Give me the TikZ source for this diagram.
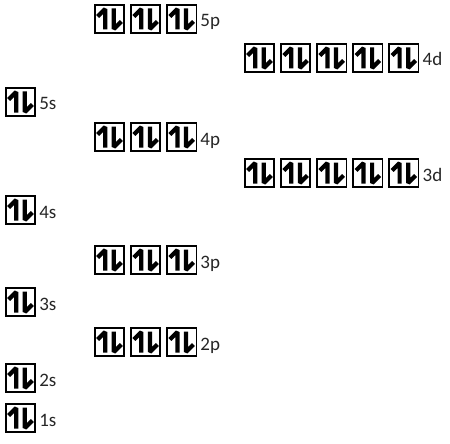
\documentclass[tikz,border=0pt]{standalone}
\usepackage{fontspec}
\setmainfont{Carlito}
\usepackage{tikz}
\usetikzlibrary{positioning}
\tikzset{
  orb/.style={draw, line width=1.7pt, minimum width=29.4pt, minimum height=28.4pt, inner sep=0pt,
    path picture={
      \draw[line width=4.2pt, line join=bevel]
        ([shift={(-4.3pt,-10.5pt)}]path picture bounding box.center) -- ++(0pt,20.5pt) -- ++(-7.5pt,-7.5pt);
      \draw[line width=4.2pt, line join=bevel]
        ([shift={(4.3pt,10.5pt)}]path picture bounding box.center) -- ++(0pt,-20.5pt) -- ++(7.5pt,7.5pt);
    }},
  lbl/.style={inner sep=0pt, text height=12pt, text depth=4pt, yshift=-4pt, text=black!85,
    font=\fontsize{19pt}{20pt}\selectfont}
}
\begin{document}
\begin{tikzpicture}[x=1pt, y=-1pt, node distance=5pt]
  \useasboundingbox (0,0) rectangle (450,444);
  \node[orb]  (p5a)  at (109.5,19) {};
  \node[orb, right=of p5a]  (p5b)  {};
  \node[orb, right=of p5b]  (p5c)  {};
  \node[lbl, right=3pt of p5c]  (t5p)  {5p};

  \node[orb]  (d4a)  at (259.5,58) {};
  \node[orb, right=of d4a]  (d4b)  {};
  \node[orb, right=of d4b]  (d4c)  {};
  \node[orb, right=of d4c]  (d4d)  {};
  \node[orb, right=of d4d]  (d4e)  {};
  \node[lbl, right=3pt of d4e]  (t4d)  {4d};

  \node[orb]  (s5)  at (20.5,102) {};
  \node[lbl, right=3pt of s5]  (t5s)  {5s};

  \node[orb]  (p4a)  at (109.5,137) {};
  \node[orb, right=of p4a]  (p4b)  {};
  \node[orb, right=of p4b]  (p4c)  {};
  \node[lbl, right=3pt of p4c]  (t4p)  {4p};

  \node[orb]  (d3a)  at (259.5,173) {};
  \node[orb, right=of d3a]  (d3b)  {};
  \node[orb, right=of d3b]  (d3c)  {};
  \node[orb, right=of d3c]  (d3d)  {};
  \node[orb, right=of d3d]  (d3e)  {};
  \node[lbl, right=3pt of d3e]  (t3d)  {3d};

  \node[orb]  (s4)  at (20.5,210) {};
  \node[lbl, right=3pt of s4]  (t4s)  {4s};

  \node[orb]  (p3a)  at (109.5,260) {};
  \node[orb, right=of p3a]  (p3b)  {};
  \node[orb, right=of p3b]  (p3c)  {};
  \node[lbl, right=3pt of p3c]  (t3p)  {3p};

  \node[orb]  (s3)  at (20.5,302) {};
  \node[lbl, right=3pt of s3]  (t3s)  {3s};

  \node[orb]  (p2a)  at (109.5,342) {};
  \node[orb, right=of p2a]  (p2b)  {};
  \node[orb, right=of p2b]  (p2c)  {};
  \node[lbl, right=3pt of p2c]  (t2p)  {2p};

  \node[orb]  (s2)  at (20.5,378) {};
  \node[lbl, right=3pt of s2]  (t2s)  {2s};

  \node[orb]  (s1)  at (20.5,418) {};
  \node[lbl, right=3pt of s1]  (t1s)  {1s};
\end{tikzpicture}
\end{document}
